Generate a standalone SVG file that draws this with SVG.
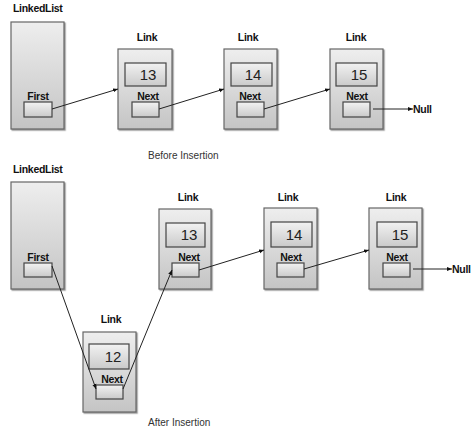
<svg xmlns="http://www.w3.org/2000/svg" width="474" height="433" viewBox="0 0 474 433">
<defs>
<linearGradient id="gBox" x1="0" y1="0" x2="0" y2="1">
<stop offset="0" stop-color="#eeeeee"/>
<stop offset="1" stop-color="#c4c4c4"/>
</linearGradient>
<linearGradient id="gIn" x1="0" y1="0" x2="0" y2="1">
<stop offset="0" stop-color="#f2f2f2"/>
<stop offset="1" stop-color="#cacaca"/>
</linearGradient>
<filter id="sh" x="-10%" y="-10%" width="130%" height="130%">
<feDropShadow dx="1.2" dy="1.2" stdDeviation="0.6" flood-color="#555" flood-opacity="0.6"/>
</filter>
<marker id="arr" viewBox="0 0 10 10" refX="10" refY="5" markerWidth="5" markerHeight="5" orient="auto" markerUnits="userSpaceOnUse">
<path d="M0,1 L10,5 L0,9 z" fill="#111"/>
</marker>
</defs>
<style>
.box{fill:url(#gBox);stroke:#666;stroke-width:1.2;filter:url(#sh)}
.in{fill:url(#gIn);stroke:#444;stroke-width:1.2}
.lbl{font-family:"Liberation Sans",Arial,sans-serif;font-weight:bold;font-size:10.5px;letter-spacing:-0.3px;fill:#111}
.num{font-family:"Liberation Sans",Arial,sans-serif;font-size:15px;fill:#222}
.cap{font-family:"Liberation Sans",Arial,sans-serif;font-size:10px;fill:#333}
.con{stroke:#222;stroke-width:1;fill:none;marker-end:url(#arr)}
</style>
<rect width="474" height="433" fill="#fff"/>

<!-- Before insertion -->
<g id="ll1">
<text class="lbl" x="13" y="12">LinkedList</text>
<rect class="box" x="11" y="22" width="53" height="107"/>
<text class="lbl" x="38" y="100" text-anchor="middle">First</text>
<rect class="in" x="24" y="102" width="28" height="15"/>
</g>
<g id="b13">
<text class="lbl" x="147" y="41" text-anchor="middle">Link</text>
<rect class="box" x="118" y="49" width="54" height="80"/>
<rect class="in" x="125" y="63" width="41" height="23"/>
<text class="num" x="148" y="80" text-anchor="middle">13</text>
<text class="lbl" x="148" y="100" text-anchor="middle">Next</text>
<rect class="in" x="132" y="102" width="27" height="15"/>
</g>
<g id="b14">
<text class="lbl" x="248" y="41" text-anchor="middle">Link</text>
<rect class="box" x="224" y="49" width="53" height="80"/>
<rect class="in" x="231" y="63" width="41" height="23"/>
<text class="num" x="253" y="80" text-anchor="middle">14</text>
<text class="lbl" x="250" y="100" text-anchor="middle">Next</text>
<rect class="in" x="237" y="102" width="27" height="15"/>
</g>
<g id="b15">
<text class="lbl" x="356" y="41" text-anchor="middle">Link</text>
<rect class="box" x="330" y="49" width="53" height="80"/>
<rect class="in" x="336" y="63" width="41" height="23"/>
<text class="num" x="359" y="80" text-anchor="middle">15</text>
<text class="lbl" x="357" y="100" text-anchor="middle">Next</text>
<rect class="in" x="343" y="102" width="27" height="15"/>
<text class="lbl" x="413" y="113">Null</text>
</g>
<text class="cap" x="148" y="159">Before Insertion</text>

<!-- After insertion -->
<g id="ll2">
<text class="lbl" x="13" y="173">LinkedList</text>
<rect class="box" x="11" y="182" width="53" height="107"/>
<text class="lbl" x="38" y="261" text-anchor="middle">First</text>
<rect class="in" x="24" y="263" width="28" height="14"/>
</g>
<g id="a12">
<text class="lbl" x="111" y="323" text-anchor="middle">Link</text>
<rect class="box" x="83" y="332" width="53" height="80"/>
<rect class="in" x="89" y="344" width="40" height="25"/>
<text class="num" x="113" y="362" text-anchor="middle">12</text>
<text class="lbl" x="112" y="383" text-anchor="middle">Next</text>
<rect class="in" x="96" y="385" width="27" height="14"/>
</g>
<g id="a13">
<text class="lbl" x="188" y="201" text-anchor="middle">Link</text>
<rect class="box" x="159" y="209" width="52" height="80"/>
<rect class="in" x="166" y="223" width="39" height="24"/>
<text class="num" x="189" y="240" text-anchor="middle">13</text>
<text class="lbl" x="189" y="261" text-anchor="middle">Next</text>
<rect class="in" x="172" y="263" width="27" height="14"/>
</g>
<g id="a14">
<text class="lbl" x="288" y="201" text-anchor="middle">Link</text>
<rect class="box" x="264" y="208" width="53" height="81"/>
<rect class="in" x="271" y="222" width="41" height="25"/>
<text class="num" x="294" y="240" text-anchor="middle">14</text>
<text class="lbl" x="291" y="261" text-anchor="middle">Next</text>
<rect class="in" x="277" y="263" width="27" height="14"/>
</g>
<g id="a15">
<text class="lbl" x="396" y="201" text-anchor="middle">Link</text>
<rect class="box" x="369" y="208" width="53" height="81"/>
<rect class="in" x="377" y="222" width="40" height="25"/>
<text class="num" x="400" y="240" text-anchor="middle">15</text>
<text class="lbl" x="397" y="261" text-anchor="middle">Next</text>
<rect class="in" x="383" y="263" width="27" height="14"/>
<text class="lbl" x="452" y="273">Null</text>
</g>
<text class="cap" x="148" y="426">After Insertion</text>

<g id="connectors">
<line class="con" x1="52" y1="109" x2="118" y2="89"/>
<line class="con" x1="159" y1="109" x2="224" y2="89"/>
<line class="con" x1="264" y1="109" x2="330" y2="89"/>
<line class="con" x1="373" y1="109" x2="413" y2="109"/>
<line class="con" x1="52" y1="266" x2="96" y2="389"/>
<line class="con" x1="123" y1="389" x2="172" y2="270"/>
<line class="con" x1="199" y1="270" x2="264" y2="250"/>
<line class="con" x1="304" y1="269" x2="369" y2="250"/>
<line class="con" x1="413" y1="269" x2="452" y2="269"/>
</g>
</svg>
